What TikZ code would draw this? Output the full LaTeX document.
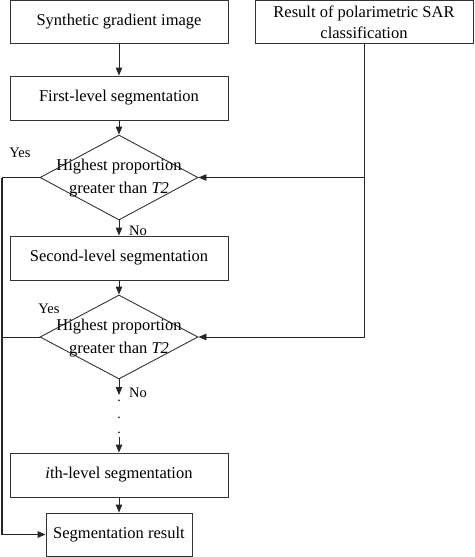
\documentclass[tikz,border=0pt]{standalone}
\usepackage{fontspec}
\setmainfont{Liberation Serif}
\usetikzlibrary{shapes.geometric,arrows.meta}
\begin{document}
\begin{tikzpicture}[x=1pt,y=1pt,
  box/.style={draw=black!80,line width=0.9pt,rectangle,minimum width=218pt,minimum height=43pt,inner sep=0pt,font=\fontsize{16.5}{21}\selectfont,align=center},
  dia/.style={draw=black!80,line width=0.9pt,diamond,minimum width=158pt,minimum height=85pt,inner sep=0pt},
  dtext/.style={font=\fontsize{16.5}{23}\selectfont,align=center,inner sep=0pt},
  lbl/.style={font=\fontsize{14.5}{17}\selectfont,inner sep=0pt},
  conn/.style={draw=black!85,line width=0.9pt},
  arr/.style={conn,-{Triangle[length=8pt,width=6.5pt]}},
  dot/.style={font=\fontsize{14}{14}\selectfont,inner sep=0pt}]
\useasboundingbox (0,0) rectangle (474,-557);
\node[box] (b1) at (119,-22) {Synthetic gradient image};
\node[box] (b2) at (364,-22) {Result of polarimetric SAR\\classification};
\node[box,minimum height=44pt] (f1) at (119,-98) {First-level segmentation};
\node[dia] (d1) at (119,-177.5) {};
\node[dtext] (t1) at (119,-178) {Highest proportion\\greater than \textit{T2}};
\node[box,minimum height=44pt] (f2) at (119,-258) {Second-level segmentation};
\node[dia,minimum height=84pt] (d2) at (119,-337) {};
\node[dtext] (t2) at (119,-338) {Highest proportion\\greater than \textit{T2}};
\node[box,minimum height=44pt] (fi) at (119,-475) {\textit{i}th-level segmentation};
\node[box,minimum width=146pt,minimum height=43pt] (res) at (119,-534.5) {Segmentation result};
\node[lbl] (y1) at (20,-153) {Yes};
\node[lbl] (y2) at (49,-309) {Yes};
\node[lbl] (n1) at (138,-231) {No};
\node[lbl] (n2) at (138,-393) {No};
\node[dot] (p1) at (119,-401) {.};
\node[dot] (p2) at (119,-418) {.};
\node[dot] (p3) at (119,-433) {.};
\coordinate (c1) at (119,-395);
\coordinate (c2) at (119,-437);
\coordinate (j1) at (364,-177.5);
\coordinate (l1) at (2,-177.5);
\coordinate (l2) at (2,-337);
% connectors
\draw[arr] (b1) -- (f1);
\draw[arr] (f1) -- (d1);
\draw[arr] (d1) -- (f2);
\draw[arr] (f2) -- (d2);
\draw[arr] (d2) -- (c1);
\draw[arr] (c2) -- (fi);
\draw[arr] (fi) -- (res);
\draw[arr] (b2.south) |- (d2.east);
\draw[arr] (j1) -- (d1.east);
\draw[conn] (d1.west) -- (l1);
\draw[conn] (d2.west) -- (l2);
\draw[arr,line width=1.5pt] (l1) |- (res.west);
\end{tikzpicture}
\end{document}
